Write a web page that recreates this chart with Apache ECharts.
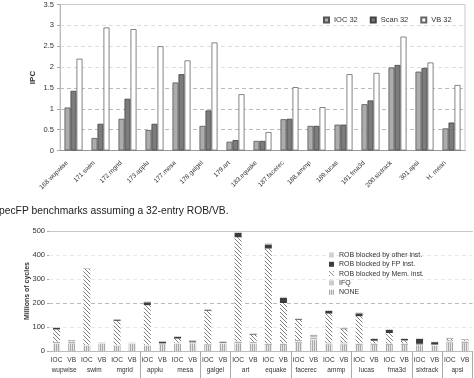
<!DOCTYPE html>
<html><head><meta charset="utf-8">
<script src="https://cdn.jsdelivr.net/npm/echarts@6/dist/echarts.min.js"></script>
<style>html,body{margin:0;padding:0;background:#fff}#c{width:474px;height:378px}</style>
</head><body><div id="c"></div>
<script>
// ---------- Top chart data (IPC) ----------
const topCategories = ['168.wupwise','171.swim','172.mgrid','173.applu','177.mesa','178.galgel','179.art','183.equake','187.facerec','188.ammp','189.lucas','191.fma3d','200.sixtrack','301.apsi','H. mean'];
const ioc32  = [1.03,0.30,0.76,0.49,1.63,0.59,0.21,0.23,0.75,0.59,0.62,1.11,1.99,1.89,0.53];
const scan32 = [1.43,0.64,1.24,0.64,1.83,0.96,0.25,0.23,0.76,0.59,0.62,1.20,2.05,1.98,0.67];
const vb32   = [2.20,2.95,2.91,2.50,2.16,2.59,1.35,0.44,1.52,1.04,1.83,1.86,2.73,2.11,1.57];
const topLegend = ['IOC 32','Scan 32','VB 32'];

// ---------- Bottom chart data (Millions of cycles) ----------
const benchNames = ['wupwise','swim','mgrid','applu','mesa','galgel','art','equake','facerec','ammp','lucas','fma3d','sixtrack','apsi'];
const configNames = ['IOC','VB'];
const configLabels = [];
benchNames.forEach(() => configNames.forEach(c => configLabels.push(c)));
const cycNone  = [30,32, 22,30, 22,30, 22,28, 30,32, 26,30, 32,30, 25,25, 34,45, 28,28, 25,25, 25,25, 24,22, 35,33];
const cycIfq   = [8,8,   4,4,   4,3,   4,4,   5,5,   4,4,   10,9,  7,7,   12,17, 8,8,   7,7,   7,7,   6,5,   10,10];
const cycMem   = [52,2,  316,0, 100,0, 165,0, 17,2,  138,1, 432,28, 395,168, 84,1, 120,55, 113,11, 43,12, 0,0, 5,3];
const cycFp    = [6,2,   1,0,   5,0,   12,7,  7,4,   4,3,   18,3,  17,22, 3,2,   11,3,  12,7,  13,6,  20,10, 2,2];
const cycOther = [4,2,   2,2,   2,2,   4,3,   3,3,   3,2,   5,4,   5,4,   3,3,   4,3,   4,3,   4,3,   3,2,   3,2];
const bottomLegend = ['ROB blocked by other inst.','ROB blocked by FP inst.','ROB blocked by Mem. inst.','IFQ','NONE'];
const separatorAt = [3,5,6,8,10,12,13];

const caption = 'pecFP benchmarks assuming a 32-entry ROB/VB.';
const FONT = 'Liberation Sans, Arial, sans-serif';

function pattern(w, h, draw) {
  const c = document.createElement('canvas');
  c.width = w; c.height = h;
  const ctx = c.getContext('2d');
  draw(ctx);
  return { image: c, repeat: 'repeat' };
}
const hatch = pattern(4, 4, ctx => {
  ctx.fillStyle = '#ffffff'; ctx.fillRect(0, 0, 4, 4);
  ctx.fillStyle = '#808080';
  for (let i = 0; i < 4; i++) ctx.fillRect(i, i, 1, 1);
});
const vstripe = pattern(2, 1, ctx => {
  ctx.fillStyle = '#e6e6e6'; ctx.fillRect(0, 0, 2, 1);
  ctx.fillStyle = '#a8a8a8'; ctx.fillRect(0, 0, 1, 1);
});
const hstripe = pattern(1, 2, ctx => {
  ctx.fillStyle = '#e6e6e6'; ctx.fillRect(0, 0, 1, 2);
  ctx.fillStyle = '#b4b4b4'; ctx.fillRect(0, 0, 1, 1);
});
const dots = pattern(2, 2, ctx => {
  ctx.fillStyle = '#e4e4e4'; ctx.fillRect(0, 0, 2, 2);
  ctx.fillStyle = '#c0c0c0'; ctx.fillRect(0, 0, 1, 1); ctx.fillRect(1, 1, 1, 1);
});

const chart = echarts.init(document.getElementById('c'), null, { renderer: 'canvas' });

function stackSeries(name, data, color) {
  return { type: 'bar', name, data, stack: 'cyc', xAxisIndex: 1, yAxisIndex: 1, barWidth: 7,
    itemStyle: { color }, emphasis: { disabled: true }, animation: false };
}

chart.setOption({
  animation: false,
  textStyle: { fontFamily: FONT },
  title: { text: caption, left: -1, top: 206, padding: 0,
    textStyle: { fontSize: 10.3, fontWeight: 'normal', color: '#222', fontFamily: FONT } },
  grid: [
    { left: 60, top: 4.5, width: 405, height: 146, show: true, borderColor: '#c8c8c8', borderWidth: 1 },
    { left: 49, top: 231, right: 1.5, height: 120 }
  ],
  legend: [
    { data: topLegend, left: 318, top: 11, itemWidth: 5, itemHeight: 5, itemGap: 12, icon: 'rect',
      textStyle: { fontSize: 7.5, color: '#333', fontFamily: FONT } },
    { data: bottomLegend, orient: 'vertical', left: 324, top: 246.5, itemWidth: 5, itemHeight: 5, itemGap: 2.3, icon: 'rect',
      textStyle: { fontSize: 7, color: '#333', fontFamily: FONT } }
  ],
  xAxis: [
    { gridIndex: 0, type: 'category', data: topCategories,
      axisLine: { lineStyle: { color: '#999' } },
      axisTick: { length: 3, lineStyle: { color: '#999' } },
      axisLabel: { rotate: 45, interval: 0, fontSize: 6.5, color: '#333', margin: 5, padding: [0, 9, 0, 0] } },
    { gridIndex: 1, type: 'category', data: configLabels,
      axisLine: { lineStyle: { color: '#bbb' } },
      axisTick: { show: false },
      axisLabel: { interval: 0, fontSize: 6.5, color: '#333', margin: 6 } },
    { gridIndex: 1, type: 'category', data: benchNames, position: 'bottom',
      axisLine: { show: false },
      axisTick: { show: true, length: 27, interval: (i) => separatorAt.indexOf(i) >= 0, lineStyle: { color: '#aaa' } },
      axisLabel: { interval: 0, fontSize: 6.5, color: '#333', margin: 16 } },
    { gridIndex: 1, type: 'category', data: configLabels, position: 'top',
      axisLine: { lineStyle: { color: '#c8c8c8' } },
      axisTick: { show: false }, axisLabel: { show: false } }
  ],
  yAxis: [
    { gridIndex: 0, type: 'value', min: 0, max: 3.5, interval: 0.5,
      name: 'IPC', nameLocation: 'middle', nameGap: 23.5, nameMoveOverlap: false,
      nameTextStyle: { fontSize: 8, fontWeight: 'bold', color: '#333' },
      axisLine: { show: true, lineStyle: { color: '#bbb' } },
      axisTick: { show: true, length: 3, lineStyle: { color: '#aaa' } },
      axisLabel: { fontSize: 7.5, color: '#333', margin: 6 },
      splitLine: { lineStyle: { type: [4, 3], color: ['#ccc','#bbb','#bbb','#bbb','#ddd','#ddd','#ddd','#ccc'] } } },
    { gridIndex: 1, type: 'value', min: 0, max: 500, interval: 100,
      name: 'Millions of cycles', nameLocation: 'middle', nameGap: 18.5, nameMoveOverlap: false,
      nameTextStyle: { fontSize: 7, fontWeight: 'bold', color: '#333' },
      axisLine: { show: false },
      axisTick: { show: true, length: 2, lineStyle: { color: '#aaa' } },
      axisLabel: { fontSize: 7.5, color: '#333', margin: 4 },
      splitLine: { lineStyle: { type: [4, 3], color: ['#ddd','#e8e8e8','#bbb','#e8e8e8','#e8e8e8','#ccc'] } } }
  ],
  series: [
    { type: 'bar', name: 'IOC 32', data: ioc32, xAxisIndex: 0, yAxisIndex: 0, barWidth: 6, barGap: '0%',
      itemStyle: { color: '#acacac', borderColor: '#555', borderWidth: 0.8 } },
    { type: 'bar', name: 'Scan 32', data: scan32, xAxisIndex: 0, yAxisIndex: 0, barWidth: 6, barGap: '0%',
      itemStyle: { color: '#7c7c7c', borderColor: '#444', borderWidth: 0.8 } },
    { type: 'bar', name: 'VB 32', data: vb32, xAxisIndex: 0, yAxisIndex: 0, barWidth: 6, barGap: '0%',
      itemStyle: { color: '#ffffff', borderColor: '#666', borderWidth: 0.8 } },
    stackSeries('NONE', cycNone, vstripe),
    stackSeries('IFQ', cycIfq, hstripe),
    stackSeries('ROB blocked by Mem. inst.', cycMem, hatch),
    stackSeries('ROB blocked by FP inst.', cycFp, '#3c3c3c'),
    stackSeries('ROB blocked by other inst.', cycOther, dots)
  ]
});
</script>
</body></html>
